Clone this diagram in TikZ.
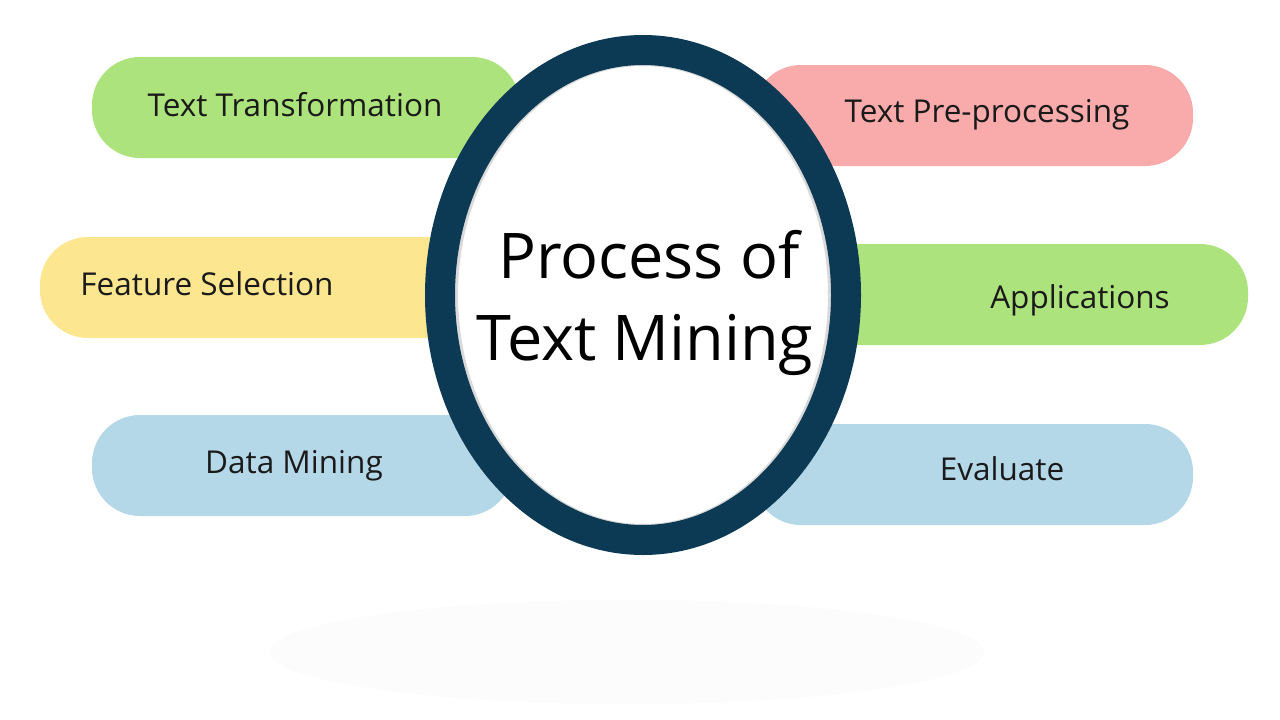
\documentclass[tikz,border=0pt]{standalone}
\usepackage{fontspec}
\setmainfont{Open Sans}
\definecolor{pillgreen}{HTML}{ADE37C}
\definecolor{pillpink}{HTML}{F9AAAA}
\definecolor{pillyellow}{HTML}{FDE690}
\definecolor{pillblue}{HTML}{B5D8E8}
\definecolor{ringnavy}{HTML}{0C3A55}
\definecolor{labelink}{HTML}{1A1A1A}
\begin{document}
\begin{tikzpicture}[x=1pt,y=-1pt,
  pill/.style={rectangle, rounded corners=48pt, minimum height=101pt, inner sep=0pt, draw=none},
  steplabel/.style={anchor=base, inner sep=0pt, text=labelink, font=\fontsize{31.5}{36}\selectfont},
  title/.style={anchor=base, inner sep=0pt, text=black, font=\fontsize{63}{72}\selectfont}]
\useasboundingbox (0,0) rectangle (1280,720);
\fill [white] (0,0) rectangle (1280,720);
% faint shadow under the ring
\fill [black!1] (627,652) ellipse [x radius=357, y radius=52];
% the six steps
\node [pill, fill=pillgreen, minimum width=428pt] (transform) at (306,107.5) {};
\node [pill, fill=pillpink, minimum width=440pt] (preproc) at (973,115.5) {};
\node [pill, fill=pillyellow, minimum width=460pt] (feature) at (270,287.5) {};
\node [pill, fill=pillgreen, minimum width=468pt] (apps) at (1014,294.5) {};
\node [pill, fill=pillblue, minimum width=421pt] (datamining) at (302.5,465.5) {};
\node [pill, fill=pillblue, minimum width=440pt] (evaluate) at (973,474.5) {};
\node [steplabel] (transformtext) at (295,116) {Text Transformation};
\node [steplabel] (preproctext) at (987,122) {Text Pre-processing};
\node [steplabel] (featuretext) at (207,295) {Feature Selection};
\node [steplabel] (appstext) at (1080,308) {Applications};
\node [steplabel] (dataminingtext) at (294,473) {Data Mining};
\node [steplabel] (evaluatetext) at (1002,480) {Evaluate};
% the ring in the middle
\fill [white] (643,295) ellipse [x radius=204, y radius=246];
\draw [black!15, line width=4pt] (643,295) ellipse [x radius=187, y radius=231];
\draw [ringnavy, line width=30pt] (643,295) ellipse [x radius=203, y radius=245];
\node [title] (process) at (649,278) {Process of};
\node [title] (mining) at (645,360) {Text Mining};
\end{tikzpicture}
\end{document}
